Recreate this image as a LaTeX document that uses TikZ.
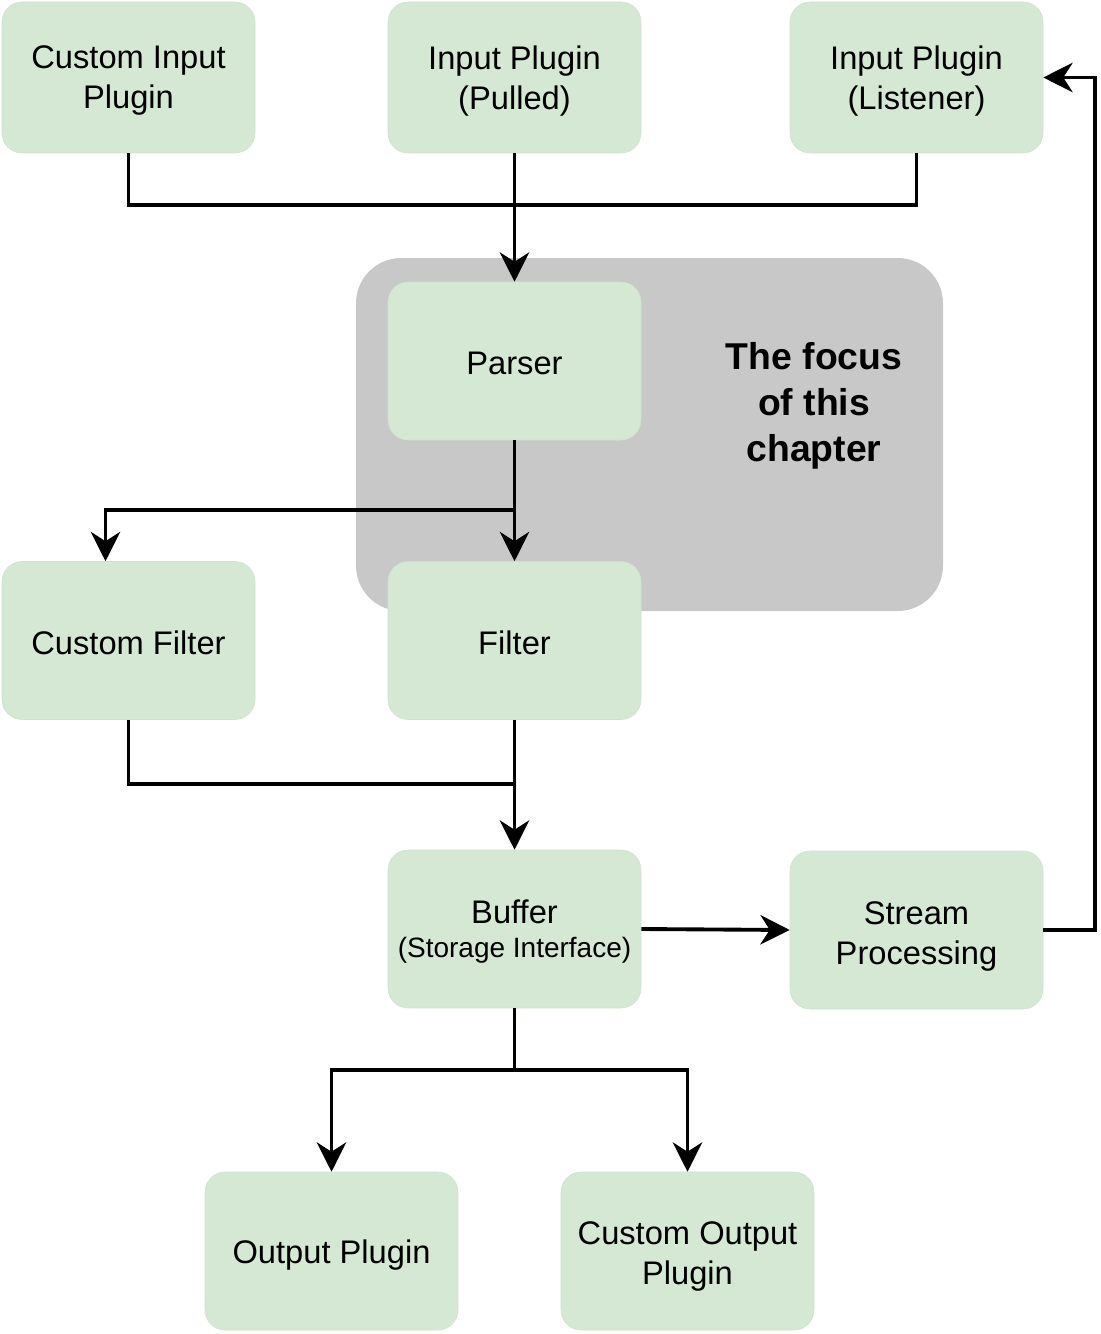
\documentclass[tikz,border=0pt]{standalone}
\usepackage{fontspec}
\setmainfont{Liberation Sans}
\usetikzlibrary{arrows.meta}
\definecolor{boxgreen}{HTML}{D5E8D4}
\definecolor{focusgray}{HTML}{C8C8C8}
\begin{document}
\begin{tikzpicture}[x=0.75pt,y=-0.75pt,
  gbox/.style={fill=boxgreen,draw=boxgreen!85!black!20!boxgreen,rounded corners=15pt,minimum width=189.75pt,minimum height=118.5pt,inner sep=0pt},
  topbox/.style={gbox,minimum height=113.25pt},
  txt/.style={align=center,inner sep=0pt,font=\fontsize{24.5}{30}\selectfont},
  conn/.style={line width=2.9pt,black},
  arr/.style={conn,-{Stealth[length=22pt,width=22pt,inset=7pt]}}
]
\useasboundingbox (0,0) rectangle (1100,1334);
\fill[white] (0,0) rectangle (1100,1334);
% focus area
\node[fill=focusgray,rounded corners=34pt,minimum width=440.25pt,minimum height=264.75pt,inner sep=0pt] (focus) at (649.5,434.5) {};
\node[font=\bfseries\fontsize{28}{34.5}\selectfont,align=center] (focustxt) at (814,406) {The focus\\of this\\chapter};
% boxes
\node[topbox] (cip) at (128.5,77.5) {};
\node[topbox] (pul) at (514.5,77.5) {};
\node[topbox] (lis) at (916.5,77.5) {};
\node[gbox] (par) at (514.5,361) {};
\node[gbox] (cfil) at (128.5,640.5) {};
\node[gbox] (fil) at (514.5,640.5) {};
\node[gbox] (buf) at (514.5,929) {};
\node[gbox] (str) at (916.5,930) {};
\node[gbox] (out) at (331.5,1251) {};
\node[gbox] (cout) at (687.5,1251) {};
% texts
\node[txt] (cip-t) at ([yshift=-2.5pt]cip.center) {Custom Input\\Plugin};
\node[txt] (pul-t) at ([yshift=-2.5pt]pul.center) {Input Plugin\\(Pulled)};
\node[txt] (lis-t) at ([yshift=-2.5pt]lis.center) {Input Plugin\\(Listener)};
\node[txt] (par-t) at ([yshift=-1.5pt]par.center) {Parser};
\node[txt] (cfil-t) at ([yshift=-1.5pt]cfil.center) {Custom Filter};
\node[txt] (fil-t) at ([yshift=-1.5pt]fil.center) {Filter};
\node[txt] (buf-t) at ([yshift=-2pt]buf.center) {Buffer\\[-4pt]{\fontsize{21}{26}\selectfont(Storage Interface)}};
\node[txt] (str-t) at ([yshift=-4.5pt]str.center) {Stream\\Processing};
\node[txt] (out-t) at ([yshift=-3pt]out.center) {Output Plugin};
\node[txt] (cout-t) at ([yshift=-4pt]cout.center) {Custom Output\\Plugin};
% junctions
\coordinate (j1) at (514.5,205);
\coordinate (j2) at (514.5,510);
\coordinate (j3) at (514.5,784);
\coordinate (j4) at (514.5,1070);
\coordinate (r1) at (1095,930);
% connectors
\draw[conn] (cip.south) |- (j1) -| (lis.south);
\draw[arr] (pul.south) -- (par.north);
\draw[arr] (par.south) -- (fil.north);
\draw[arr] (j2) -| ([xshift=-17.25pt]cfil.north);
\draw[conn] (cfil.south) |- (j3);
\draw[arr] (fil.south) -- (buf.north);
\draw[arr] (buf.east) -- (str.west);
\draw[arr] (str.east) -- (r1) |- (lis.east);
\draw[conn] (buf.south) -- (j4);
\draw[arr] (j4) -| (out.north);
\draw[arr] (j4) -| (cout.north);
\end{tikzpicture}
\end{document}
